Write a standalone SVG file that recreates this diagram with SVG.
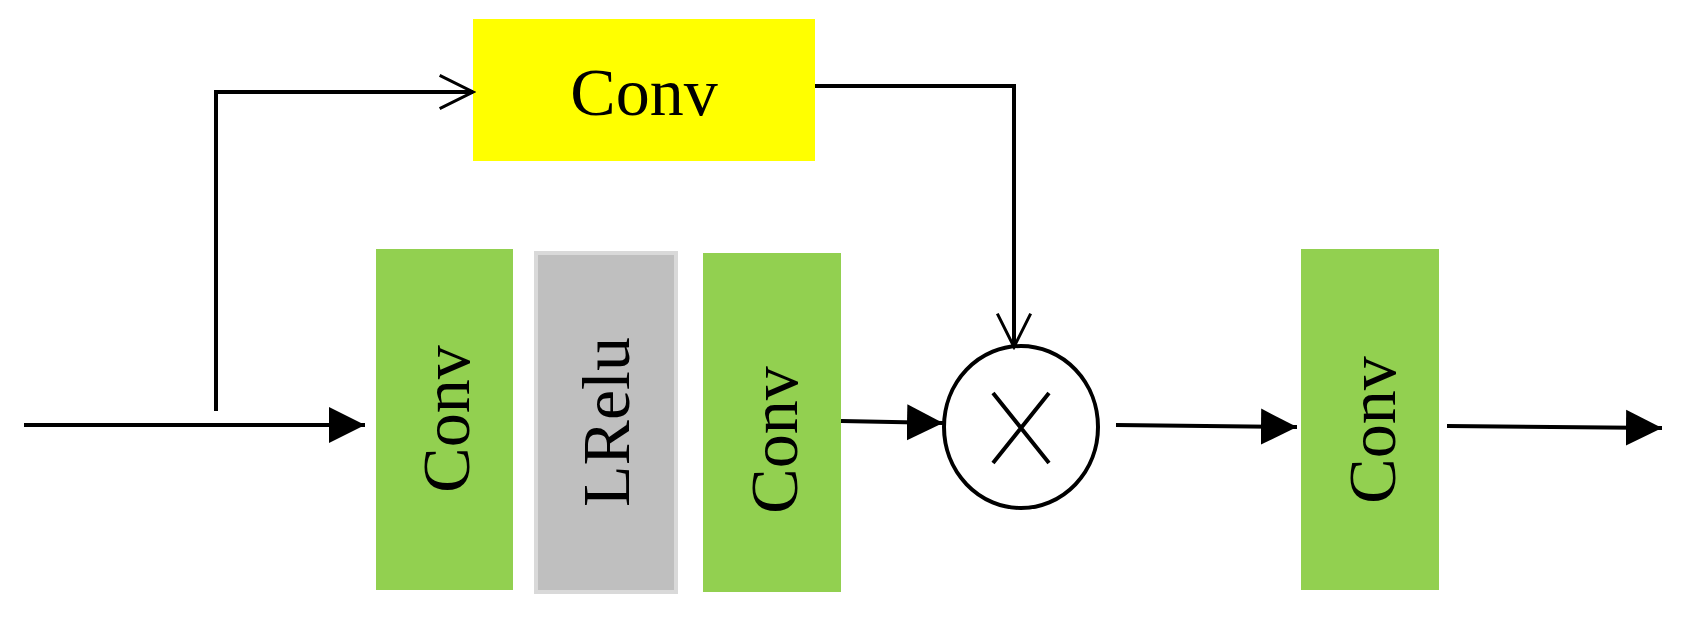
<svg xmlns="http://www.w3.org/2000/svg" width="1682" height="617" viewBox="0 0 1682 617">
<style>
.g{fill:#92d050}
.t{font-family:"Liberation Serif",serif;font-size:68px;fill:#000;text-anchor:middle;dominant-baseline:central}
.l{stroke:#000;stroke-width:4;fill:none}
</style>
<defs>
<marker id="a" viewBox="0 0 10 10" refX="10" refY="5" markerWidth="9" markerHeight="9" markerUnits="userSpaceOnUse" orient="auto"><path d="M0,0L10,5L0,10z" fill="#000" transform="scale(1)"/></marker>
<marker id="af" viewBox="0 0 10 10" refX="10" refY="5" markerWidth="36" markerHeight="40" markerUnits="userSpaceOnUse" orient="auto"><path d="M0,0L10,5L0,10z" fill="#000"/></marker>
<marker id="ao" viewBox="0 0 12 12" refX="11" refY="6" markerWidth="40" markerHeight="44" markerUnits="userSpaceOnUse" orient="auto"><path d="M1,1L11,6L1,11" fill="none" stroke="#000" stroke-width="0.9"/></marker>
</defs>
<rect width="1682" height="617" fill="#fff"/>
<g id="conv-top"><rect x="473" y="19" width="342" height="142" fill="#ffff00"/><text class="t" x="644" y="92" font-size="72">Conv</text></g>
<g id="conv1"><rect class="g" x="376" y="249" width="137" height="341"/><text class="t" transform="translate(446,419) rotate(-90)">Conv</text></g>
<g id="lrelu"><rect x="536" y="253" width="140" height="339" fill="#bfbfbf" stroke="#d9d9d9" stroke-width="4"/><text class="t" transform="translate(606,422) rotate(-90)">LRelu</text></g>
<g id="conv2"><rect class="g" x="703" y="253" width="138" height="339"/><text class="t" transform="translate(774,440) rotate(-90)">Conv</text></g>
<g id="mult"><ellipse cx="1021" cy="427" rx="77" ry="81" fill="#fff" stroke="#000" stroke-width="4"/><path d="M993,393L1049,463M1049,393L993,463" class="l" stroke-width="3"/></g>
<g id="conv3"><rect class="g" x="1301" y="249" width="138" height="341"/><text class="t" transform="translate(1372,430) rotate(-90)">Conv</text></g>
<g id="connectors">
<path class="l" d="M24,425H365" marker-end="url(#af)"/>
<path class="l" stroke-width="3" d="M216,411V92H473" marker-end="url(#ao)"/>
<path class="l" stroke-width="3" d="M815,86H1014V347" marker-end="url(#ao)"/>
<path class="l" d="M841,421L943,423" marker-end="url(#af)"/>
<path class="l" d="M1116,425L1297,427" marker-end="url(#af)"/>
<path class="l" d="M1447,426L1662,428" marker-end="url(#af)"/>
</g>
</svg>
